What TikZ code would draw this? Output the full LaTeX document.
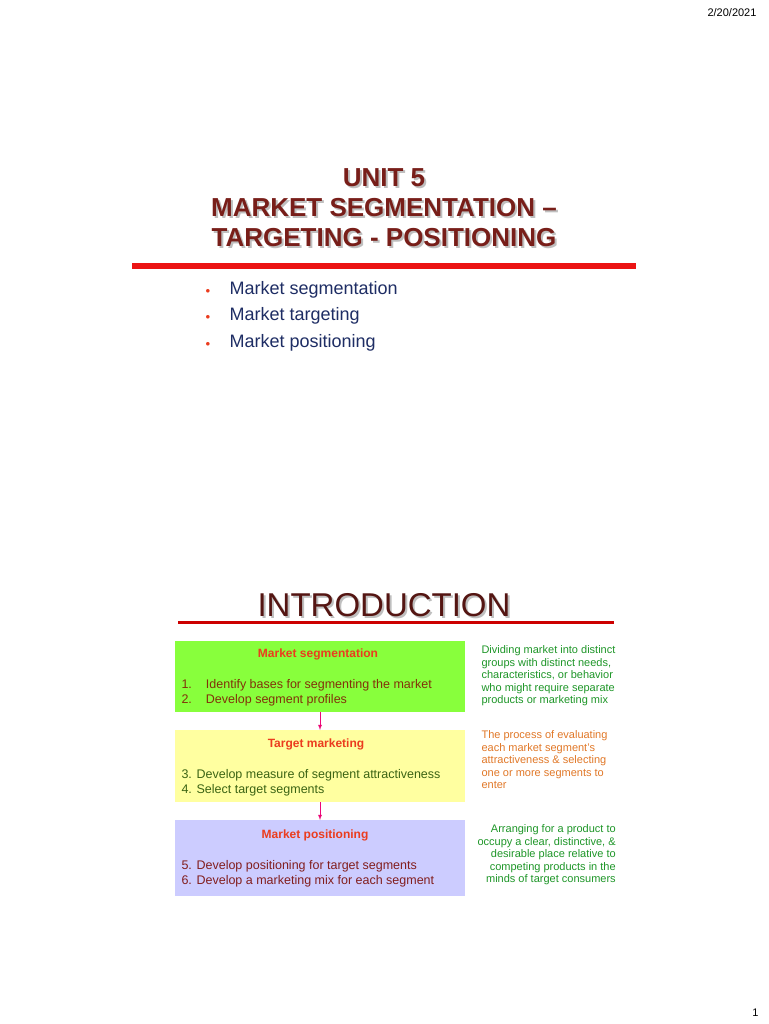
\documentclass[tikz,border=0pt]{standalone}
\usepackage{fontspec}
\setmainfont{Liberation Sans}
\usetikzlibrary{positioning}
\definecolor{titlered}{RGB}{120,30,25}
\definecolor{rulered}{RGB}{235,20,20}
\definecolor{bulletblue}{RGB}{30,45,100}
\definecolor{headred}{RGB}{235,60,30}
\definecolor{segbrown}{RGB}{130,50,10}
\definecolor{tgtgreen}{RGB}{60,100,20}
\definecolor{posred}{RGB}{130,30,30}
\definecolor{notegreen}{RGB}{30,150,40}
\definecolor{noteorange}{RGB}{225,120,40}
\definecolor{boxgreen}{RGB}{136,255,60}
\definecolor{boxyellow}{RGB}{255,255,160}
\definecolor{boxblue}{RGB}{204,204,255}
\tikzset{
  heading/.style={font=\fontsize{26}{30}\selectfont\bfseries, text=titlered, align=center},
  shadowtext/.style={font=\fontsize{26}{30}\selectfont\bfseries, text=black!25, align=center},
  bullet/.style={font=\fontsize{18}{20}\selectfont, text=bulletblue, anchor=west},
  stepbox/.style={anchor=north west, minimum width=290pt, inner sep=0pt},
  boxhead/.style={font=\fontsize{12}{14}\selectfont\bfseries, text=headred},
  item/.style={font=\fontsize{12.5}{15}\selectfont, anchor=west, align=left},
  note/.style={font=\fontsize{11}{12.6}\selectfont, anchor=north west, align=left},
  flow/.style={-latex, magenta!80!red, thick}
}
\begin{document}
\begin{tikzpicture}[x=1pt,y=-1pt]
\useasboundingbox[fill=white] (0,0) rectangle (768,1024);

\node[font=\fontsize{11}{12}\selectfont, anchor=north east] (date) at (760,5) {2/20/2021};
\node[font=\fontsize{11}{12}\selectfont, anchor=south east] (page) at (762,1020) {1};

% title
\node[shadowtext] at (386,210) {UNIT 5\\MARKET SEGMENTATION --\\TARGETING - POSITIONING};
\node[heading] (title) at (384,208) {UNIT 5\\MARKET SEGMENTATION --\\TARGETING - POSITIONING};
\draw[rulered, line width=6pt] (132,266) -- (636,266);

\foreach \y/\t in {290/Market segmentation, 316/Market targeting, 343/Market positioning} {
  \node[text=headred, font=\small] at (208,\y+1) {$\bullet$};
  \node[bullet] at (226,\y) {\t};
}

% introduction
\node[font=\fontsize{33}{36}\selectfont, text=black!25] at (386,607) {INTRODUCTION};
\node[font=\fontsize{33}{36}\selectfont, text=titlered!70!black] (intro) at (384,605) {INTRODUCTION};
\draw[red!80!black, line width=3pt] (178,622) -- (614,622);

% boxes
\node[stepbox, fill=boxgreen, minimum height=71pt] (seg) at (175,641) {};
\node[stepbox, fill=boxyellow, minimum height=72pt] (tgt) at (175,730) {};
\node[stepbox, fill=boxblue, minimum height=76pt] (pos) at (175,820) {};

\node[boxhead] at (318,654) {Market segmentation};
\node[item, text=segbrown] at (178,693) {1.\hspace{14pt}Identify bases for segmenting the market\\2.\hspace{14pt}Develop segment profiles};
\node[boxhead] at (316,744) {Target marketing};
\node[item, text=tgtgreen] at (178,783) {3. Develop measure of segment attractiveness\\4. Select target segments};
\node[boxhead] at (315,835) {Market positioning};
\node[item, text=posred] at (178,874) {5. Develop positioning for target segments\\6. Develop a marketing mix for each segment};

\draw[flow] (seg.south -| 320,0) -- (tgt.north -| 320,0);
\draw[flow] (tgt.south -| 320,0) -- (pos.north -| 320,0);

% notes
\node[note, text=notegreen] (n1) at (478,642) {Dividing market into distinct\\groups with distinct needs,\\characteristics, or behavior\\who might require separate\\products or marketing mix};
\node[note, text=noteorange] (n2) at (478,727) {The process of evaluating\\each market segment's\\attractiveness \& selecting\\one or more segments to\\enter};
\node[note, text=notegreen, align=right] (n3) at (474,821) {Arranging for a product to\hspace{12pt}\\occupy a clear, distinctive, \&\hspace{6pt}\\desirable place relative to\\competing products in the\\minds of target consumers};
\end{tikzpicture}
\end{document}
